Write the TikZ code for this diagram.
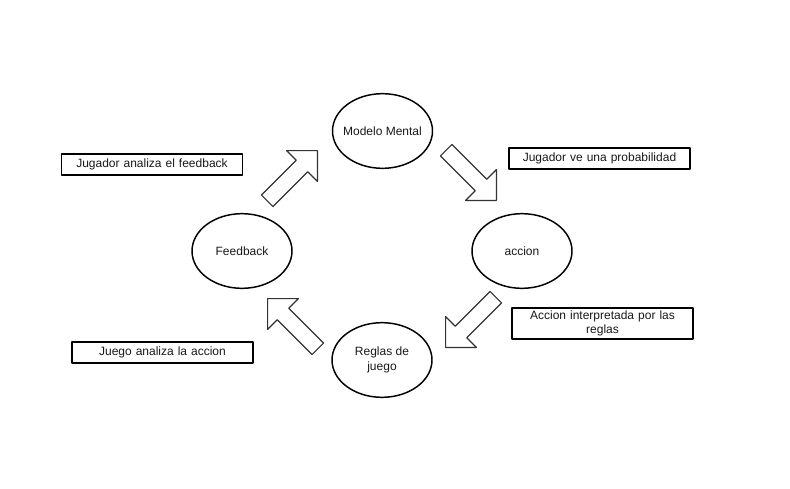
\documentclass[tikz,border=0pt]{standalone}
\usepackage{fontspec}
\setmainfont{Liberation Sans}
\usetikzlibrary{shapes.geometric,shapes.arrows}
\definecolor{linegray}{rgb}{0.2,0.2,0.2}
\definecolor{textgray}{rgb}{0.1,0.1,0.1}

\tikzset{
  estado/.style={ellipse,draw,line width=1.1pt,minimum width=75pt,minimum height=56pt,inner ysep=0pt,inner xsep=-5pt,align=center,text=textgray,font=\fontsize{9}{11}\selectfont},
  nota/.style={draw,line width=1.4pt,minimum width=135.75pt,minimum height=15.75pt,inner sep=1pt,align=center,text width=130pt,text=textgray,font=\fontsize{9}{11}\selectfont},
  flecha/.style={single arrow,draw=linegray,line width=0.9pt,anchor=tip,minimum height=53.25pt,inner sep=0pt,inner ysep=5.6pt,single arrow head extend=10.3pt,single arrow tip angle=90}
}

\begin{document}
\begin{tikzpicture}[line cap=round,line join=round,x=0.75pt,y=-0.75pt]
	\fill[white] (0,0) rectangle (790,489);
	\useasboundingbox (0,0) rectangle (790,489);

	% estados del ciclo
	\node[estado] (modelo) at (382.5,131) {Modelo Mental};
	\node[estado] (accion) at (522,251) {accion};
	\node[estado] (reglas) at (382,360) {Reglas de\\juego};
	\node[estado] (feedback) at (242,251) {Feedback};

	% flechas huecas
	\node[flecha,rotate=45] (f1) at (318,150) {};
	\node[flecha,rotate=-45] (f2) at (497,201) {};
	\node[flecha,rotate=-135] (f3) at (445,348) {};
	\node[flecha,rotate=135] (f4) at (267,298) {};

	% notas
	\node[nota] (n1) at (152,164.5) {Jugador analiza el feedback};
	\node[nota] (n2) at (599.5,158.5) {Jugador ve una probabilidad};
	\node[nota,minimum height=23.25pt] (n3) at (602.5,323.5) {Accion interpretada por las\\reglas};
	\node[nota] (n4) at (162.5,352.5) {Juego analiza la accion};
\end{tikzpicture}
\end{document}
